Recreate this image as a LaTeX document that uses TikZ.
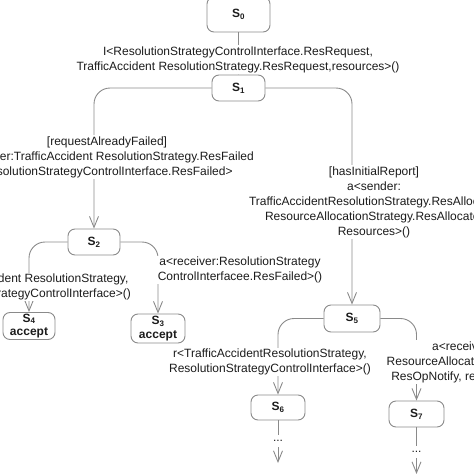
\documentclass[tikz,border=0pt]{standalone}
\usepackage{fontspec}
\setmainfont{Liberation Sans}
\usetikzlibrary{arrows.meta}
\definecolor{edgegray}{HTML}{8A8A8A}
\definecolor{txtcol}{HTML}{1C1C1C}
\begin{document}
\begin{tikzpicture}[x=1pt,y=-1pt,
  state/.style={draw=edgegray, line width=0.9pt, rounded corners=7pt,
    inner sep=0pt, align=center, text=txtcol,
    font=\bfseries\fontsize{12}{13.5}\selectfont},
  lbl/.style={fill=white, inner sep=1pt, align=center, text=txtcol,
    font=\fontsize{12}{15}\selectfont},
  trans/.style={draw=edgegray, line width=0.9pt, rounded corners=16pt,
    -{Straight Barb[length=11pt,width=9pt,line width=0.9pt]}},
  plainline/.style={draw=edgegray, line width=0.9pt},
  dotsnode/.style={inner sep=0pt, minimum height=12pt, text=txtcol,
    font=\fontsize{12}{12}\selectfont},
]
\useasboundingbox (0,0) rectangle (474,474);
\clip (0,0) rectangle (474,474);

% states
\node[state, minimum width=63pt, minimum height=35pt] (S0) at (238.5,14.5) {S\textsubscript{0}};
\node[state, minimum width=53pt, minimum height=26pt] (S1) at (238.5,88) {S\textsubscript{1}};
\node[state, minimum width=52pt, minimum height=26pt] (S2) at (94,242) {S\textsubscript{2}};
\node[state, minimum width=52pt, minimum height=27pt] (S4) at (29,326) {S\textsubscript{4}\\accept};
\node[state, minimum width=54pt, minimum height=29pt] (S3) at (158,328.5) {S\textsubscript{3}\\accept};
\node[state, minimum width=56pt, minimum height=27pt] (S5) at (352,318.5) {S\textsubscript{5}};
\node[state, minimum width=54pt, minimum height=25pt] (S6) at (278,407.5) {S\textsubscript{6}};
\node[state, minimum width=55pt, minimum height=26pt] (S7) at (416.5,414) {S\textsubscript{7}};

% transitions
\draw[trans] (S0.south) -- (S1.north);
\draw[trans] (S1.west) -| (S2.north);
\draw[trans] (S1.east) -| (S5.north);
\draw[trans] (S2.west) -| (S4.north);
\draw[trans] (S2.east) -| (S3.north);
\draw[trans] (S5.west) -| (S6.north);
\draw[trans] (S5.east) -| (S7.north);

% continuation below S6 and S7
\node[dotsnode] (D6) at (278,441) {...};
\coordinate (E6) at (278,463);
\draw[plainline] (S6.south) -- (D6.north);
\draw[trans] (D6.south) -- (E6);
\node[dotsnode] (D7) at (416.5,452) {...};
\coordinate (E7) at (416.5,474);
\draw[plainline] (S7.south) -- (D7.north);
\draw[trans] (D7.south) -- (E7);

% labels
\node[lbl] (L01) at (238,59.5) {I<ResolutionStrategyControlInterface.ResRequest,\\TrafficAccident ResolutionStrategy.ResRequest,resources>()};
\node[lbl] (L12) at (107,157) {[requestAlreadyFailed]\\a<sender:TrafficAccident ResolutionStrategy.ResFailed\\ResolutionStrategyControlInterface.ResFailed>};
\node[lbl] (L15) at (374,202) {[hasInitialReport]\\a<sender:\\TrafficAccidentResolutionStrategy.ResAllocate,\\ResourceAllocationStrategy.ResAllocate,\\Resources>()};
\node[lbl] (L24) at (30,287) {r<TrafficAccident ResolutionStrategy,\\ResolutionStrategyControlInterface>()};
\node[lbl] (L23) at (240,270) {a<receiver:ResolutionStrategy\\ControlInterfacee.ResFailed>()};
\node[lbl] (L56) at (270,362) {r<TrafficAccidentResolutionStrategy,\\ResolutionStrategyControlInterface>()};
\node[lbl] (L57) at (462,362) {a<receiver:\\ResourceAllocationStrategy.\\ResOpNotify, resources>()};
\end{tikzpicture}
\end{document}
